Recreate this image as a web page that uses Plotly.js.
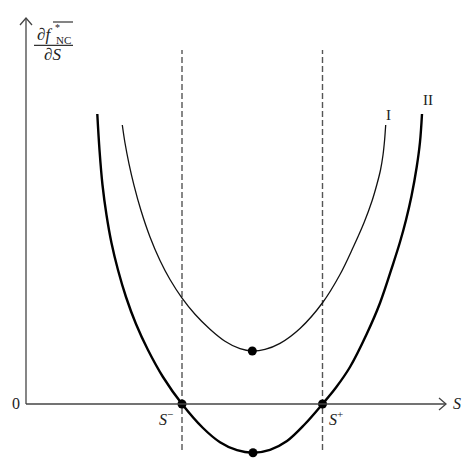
<!DOCTYPE html>
<html>
<head>
<meta charset="utf-8">
<script src="https://cdn.plot.ly/plotly-3.0.1.min.js"></script>
<style>
  html, body { margin: 0; padding: 0; background: #fff; }
  #chart { width: 474px; height: 474px; }
</style>
</head>
<body>
<div id="chart"></div>
<script>
// curve II (thick one, dips below zero)
const curve2X = [0.713, 0.735, 0.765, 0.805, 0.855, 0.92, 1.00, 1.10, 1.22, 1.37, 1.56, 1.77, 1.94, 2.11, 2.27,
                 2.44, 2.61, 2.79, 2.965, 3.10, 3.24, 3.407, 3.54, 3.673, 3.74, 3.80, 3.855, 3.907, 3.94, 3.96];
const curve2Y = [2.90, 2.54, 2.19, 1.89, 1.61, 1.34, 1.07, 0.80, 0.54, 0.27, 0, -0.24, -0.382, -0.462, -0.487,
                 -0.458, -0.37, -0.20, 0, 0.165, 0.37, 0.70, 1.01, 1.407, 1.62, 1.84, 2.08, 2.37, 2.62, 2.90];

// curve I (thin one, stays above zero)
const curve1X = [0.963, 0.99, 1.03, 1.08, 1.15, 1.24, 1.34, 1.44, 1.557, 1.69, 1.84, 1.99, 2.14, 2.263,
                 2.39, 2.54, 2.74, 2.967, 3.14, 3.273, 3.383, 3.46, 3.51, 3.545, 3.57, 3.586, 3.597];
const curve1Y = [2.79, 2.61, 2.402, 2.187, 1.935, 1.67, 1.435, 1.245, 1.064, 0.898, 0.748, 0.628, 0.553, 0.53,
                 0.546, 0.606, 0.755, 1.015, 1.295, 1.57, 1.82, 2.03, 2.20, 2.34, 2.49, 2.64, 2.79];

// roots S-, S+ and the two minima
const sMinus = 1.56;
const sPlus = 2.965;
const dotX = [sMinus, sPlus, 2.27, 2.263];
const dotY = [0, 0, -0.487, 0.53];
const dashY = [-0.46, 3.54];

// axis extents
const xAxisEnd = 4.20;
const yAxisEnd = 3.86;

const serif = 'Liberation Serif, Times New Roman, serif';

const traces = [
  { x: [sMinus, sMinus], y: dashY, mode: 'lines', line: { color: '#555', width: 1.4, dash: '6px,3px' } },
  { x: [sPlus, sPlus], y: dashY, mode: 'lines', line: { color: '#555', width: 1.4, dash: '6px,3px' } },
  { x: curve1X, y: curve1Y, mode: 'lines', line: { color: '#111', width: 1.3, shape: 'spline', smoothing: 1 } },
  { x: curve2X, y: curve2Y, mode: 'lines', line: { color: '#000', width: 2.4, shape: 'spline', smoothing: 1 } },
  { x: dotX, y: dotY, mode: 'markers', marker: { color: '#000', size: 9 } },
];

function label(x, y, text, size) {
  return { x: x, y: y, xref: 'x', yref: 'y', text: text, showarrow: false,
           font: { family: serif, size: size || 16, color: '#222' } };
}

const annotations = [
  label(-0.10, 0.01, '0'),
  label(4.31, 0.01, '<i>S</i>'),
  label(1.40, -0.14, '<i>S</i><sup>−</sup>'),
  label(3.10, -0.14, '<i>S</i><sup>+</sup>'),
  label(3.62, 2.89, 'I', 15),
  label(4.02, 3.04, 'II', 15),
  // y label: fraction d f*_NC / dS
  label(0.18, 3.70, '∂<i>f</i>', 17),
  label(0.31, 3.77, '*', 10),
  label(0.375, 3.645, 'NC', 11),
  label(0.26, 3.50, '∂<i>S</i>', 17),
];

const axisLine = { color: '#444', width: 1.3 };
const shapes = [
  // axes with open arrow heads
  { type: 'line', xref: 'x', yref: 'y', x0: 0, x1: xAxisEnd, y0: 0, y1: 0, line: axisLine },
  { type: 'line', xref: 'x', yref: 'y', x0: 0, x1: 0, y0: 0, y1: yAxisEnd, line: axisLine },
  { type: 'path', xref: 'x', yref: 'y', xsizemode: 'pixel', ysizemode: 'pixel',
    xanchor: xAxisEnd, yanchor: 0, path: 'M-7,-6L0,0L-7,6', line: axisLine },
  { type: 'path', xref: 'x', yref: 'y', xsizemode: 'pixel', ysizemode: 'pixel',
    xanchor: 0, yanchor: yAxisEnd, path: 'M-6,-7L0,0L6,-7', line: axisLine },
  // fraction bar and overline of the y label
  { type: 'line', xref: 'x', yref: 'y', x0: 0.08, x1: 0.47, y0: 3.587, y1: 3.587, line: { color: '#333', width: 1.2 } },
  { type: 'line', xref: 'x', yref: 'y', x0: 0.27, x1: 0.47, y0: 3.82, y1: 3.82, line: { color: '#333', width: 1.2 } },
];

const layout = {
  width: 474,
  height: 474,
  margin: { l: 0, r: 0, t: 0, b: 0 },
  paper_bgcolor: '#fff',
  plot_bgcolor: '#fff',
  showlegend: false,
  xaxis: { range: [-0.26, 4.48], visible: false, fixedrange: true },
  yaxis: { range: [-0.70, 4.04], visible: false, fixedrange: true },
  annotations: annotations,
  shapes: shapes,
};

Plotly.newPlot('chart', traces, layout, { staticPlot: true });
</script>
</body>
</html>
